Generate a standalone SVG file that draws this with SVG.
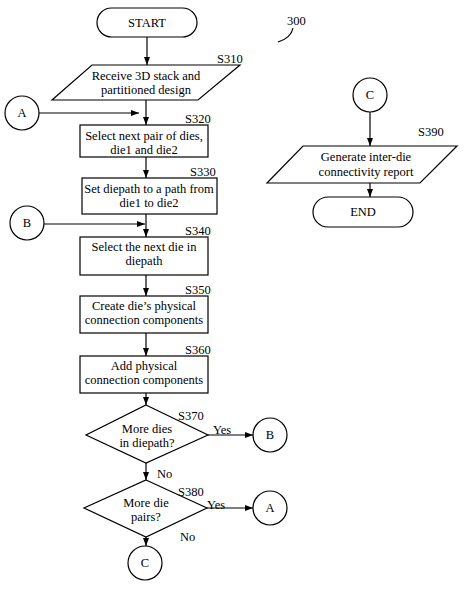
<svg xmlns="http://www.w3.org/2000/svg" width="474" height="591" viewBox="0 0 474 591">
<defs>
<marker id="ah" markerWidth="8" markerHeight="6" refX="8" refY="3" orient="auto" markerUnits="userSpaceOnUse">
<path d="M0,0 L8,3 L0,6 Z" fill="#000"/>
</marker>
<style>
.s{fill:#fff;stroke:#000;stroke-width:1.2}
.c{fill:none;stroke:#000;stroke-width:1.2}
.t{font-family:"Liberation Serif","Times New Roman",serif;font-size:12.5px;fill:#000;text-anchor:middle}
.l{font-family:"Liberation Serif","Times New Roman",serif;font-size:12.5px;fill:#000}
</style>
</defs>
<rect width="474" height="591" fill="#fff"/>
<g id="connectors">
<path class="c" d="M147,37 V65" marker-end="url(#ah)"/>
<path class="c" d="M146,100 V125" marker-end="url(#ah)"/>
<path class="c" d="M39,113 H139" marker-end="url(#ah)"/>
<path class="c" d="M146,157 V178" marker-end="url(#ah)"/>
<path class="c" d="M146,214 V237" marker-end="url(#ah)"/>
<path class="c" d="M44,224 H145" marker-end="url(#ah)"/>
<path class="c" d="M146,275 V296" marker-end="url(#ah)"/>
<path class="c" d="M146,333 V356" marker-end="url(#ah)"/>
<path class="c" d="M146,393 V405" marker-end="url(#ah)"/>
<path class="c" d="M208,435 H253" marker-end="url(#ah)"/>
<path class="c" d="M146,463 V480" marker-end="url(#ah)"/>
<path class="c" d="M207,508 H253" marker-end="url(#ah)"/>
<path class="c" d="M146,537 V546" marker-end="url(#ah)"/>
<path class="c" d="M370,112 V146" marker-end="url(#ah)"/>
<path class="c" d="M370,183 V197" marker-end="url(#ah)"/>
<path class="c" d="M278,42 Q291,38 293,28"/>
<text class="l" x="213" y="434">Yes</text>
<text class="l" x="157" y="478">No</text>
<text class="l" x="207" y="509">Yes</text>
<text class="l" x="180" y="541">No</text>
<text class="l" x="287" y="25">300</text>
</g>
<g id="start">
<rect class="s" x="97" y="8" width="100" height="29" rx="14.5"/>
<text class="t" x="147" y="27">START</text>
</g>
<g id="S310">
<path class="s" d="M92,65 H240 L198,100 H52 Z"/>
<text class="t" x="146" y="80">Receive 3D stack and</text>
<text class="t" x="146" y="94">partitioned design</text>
<text class="l" x="217" y="63">S310</text>
</g>
<g id="connA1">
<circle class="s" cx="22" cy="113" r="17"/>
<text class="t" x="22" y="117">A</text>
</g>
<g id="S320">
<rect class="s" x="80" y="125" width="128" height="32"/>
<text class="t" x="144" y="140">Select next pair of dies,</text>
<text class="t" x="144" y="153.5">die1 and die2</text>
<text class="l" x="185" y="123">S320</text>
</g>
<g id="S330">
<rect class="s" x="82" y="178" width="135" height="36"/>
<text class="t" x="149" y="193">Set diepath to a path from</text>
<text class="t" x="149" y="207">die1 to die2</text>
<text class="l" x="190" y="176">S330</text>
</g>
<g id="connB1">
<circle class="s" cx="27" cy="223" r="17"/>
<text class="t" x="27" y="227">B</text>
</g>
<g id="S340">
<rect class="s" x="80" y="237" width="128" height="38"/>
<text class="t" x="144" y="251">Select the next die in</text>
<text class="t" x="144" y="265">diepath</text>
<text class="l" x="185" y="235">S340</text>
</g>
<g id="S350">
<rect class="s" x="80" y="296" width="128" height="37"/>
<text class="t" x="144" y="310">Create die’s physical</text>
<text class="t" x="144" y="324">connection components</text>
<text class="l" x="185" y="294">S350</text>
</g>
<g id="S360">
<rect class="s" x="80" y="356" width="128" height="37"/>
<text class="t" x="144" y="370">Add physical</text>
<text class="t" x="144" y="384">connection components</text>
<text class="l" x="185" y="354">S360</text>
</g>
<g id="S370">
<path class="s" d="M146,405 L208,435 L146,463 L86,435 Z"/>
<text class="t" x="147" y="433">More dies</text>
<text class="t" x="147" y="447">in diepath?</text>
<text class="l" x="178" y="420">S370</text>
</g>
<g id="connB2">
<circle class="s" cx="270" cy="435" r="17"/>
<text class="t" x="270" y="439">B</text>
</g>
<g id="S380">
<path class="s" d="M146,480 L207,508 L146,537 L84,508 Z"/>
<text class="t" x="146" y="507">More die</text>
<text class="t" x="146" y="521">pairs?</text>
<text class="l" x="178" y="496">S380</text>
</g>
<g id="connA2">
<circle class="s" cx="270" cy="508" r="17"/>
<text class="t" x="270" y="512">A</text>
</g>
<g id="connC1">
<circle class="s" cx="145" cy="563" r="17"/>
<text class="t" x="145" y="567">C</text>
</g>
<g id="connC2">
<circle class="s" cx="370" cy="95" r="17"/>
<text class="t" x="370" y="99">C</text>
</g>
<g id="S390">
<path class="s" d="M303,146 H457 L420,183 H267 Z"/>
<text class="t" x="366" y="161">Generate inter-die</text>
<text class="t" x="366" y="176">connectivity report</text>
<text class="l" x="418" y="136">S390</text>
</g>
<g id="end">
<rect class="s" x="313" y="197" width="100" height="30" rx="15"/>
<text class="t" x="363" y="216">END</text>
</g>
</svg>
